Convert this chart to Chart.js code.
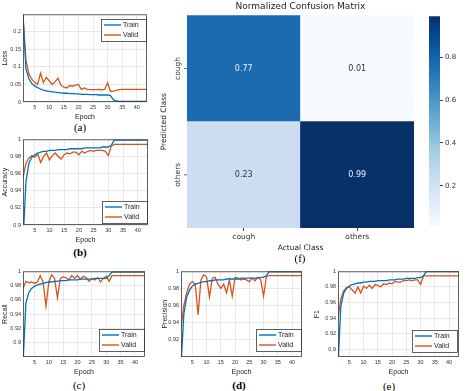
<!DOCTYPE html>
<html>
<head>
<meta charset="utf-8">
<script src="https://cdn.jsdelivr.net/npm/chart.js@4/dist/chart.umd.min.js"></script>
<style>
  html, body { margin:0; padding:0; background:#fff; }
  #wrap { position:relative; width:474px; height:391px; overflow:hidden; background:#fff; }
  canvas { position:absolute; }
  .plab { position:absolute; font-family:"Liberation Serif", serif; font-size:11px; color:#000; transform:translate(-50%,-50%); white-space:nowrap; }
</style>
</head>
<body>
<div id="wrap"></div>
<script>
// ---------------- DATA ----------------
const epochs = [1,2,3,4,5,6,7,8,9,10,11,12,13,14,15,16,17,18,19,20,21,22,23,24,25,26,27,28,29,30,31,32,33,34,35,36,37,38,39,40,41,42,43,44];
const xTicks = [5,10,15,20,25,30,35,40];

const lossTrain = [0.25,0.095,0.066,0.053,0.046,0.041,0.037,0.034,0.032,0.03,0.029,0.028,0.027,0.026,0.025,0.025,0.024,0.024,0.023,0.023,0.022,0.022,0.022,0.021,0.021,0.021,0.02,0.02,0.02,0.02,0.018,0.006,0.003,0.002,0.002,0.002,0.002,0.002,0.002,0.002,0.002,0.002,0.002,0.002];
const lossValid = [0.24,0.12,0.08,0.065,0.056,0.05,0.082,0.055,0.07,0.06,0.05,0.058,0.068,0.048,0.042,0.04,0.047,0.045,0.048,0.05,0.036,0.04,0.036,0.035,0.035,0.035,0.036,0.035,0.036,0.055,0.03,0.031,0.033,0.035,0.036,0.036,0.036,0.036,0.036,0.036,0.036,0.036,0.036,0.036];
const lossTicks = [0,0.05,0.1,0.15,0.2];
const lossTickLabels = ['0','0.05','0.1','0.15','0.2'];

const accTrain = [0.88,0.95,0.972,0.979,0.982,0.984,0.985,0.986,0.986,0.987,0.987,0.987,0.988,0.988,0.988,0.988,0.989,0.989,0.989,0.989,0.989,0.99,0.99,0.99,0.99,0.99,0.99,0.991,0.991,0.991,0.993,0.999,0.999,0.999,0.999,0.999,0.999,0.999,0.999,0.999,0.999,0.999,0.999,0.999];
const accValid = [0.955,0.972,0.978,0.981,0.979,0.983,0.973,0.98,0.984,0.976,0.981,0.984,0.98,0.977,0.982,0.984,0.983,0.985,0.985,0.982,0.986,0.984,0.986,0.987,0.986,0.987,0.987,0.987,0.986,0.981,0.992,0.994,0.994,0.994,0.994,0.994,0.994,0.994,0.994,0.994,0.994,0.994,0.994,0.994];

const recallTrain = [0.87,0.955,0.97,0.976,0.979,0.981,0.982,0.983,0.984,0.985,0.985,0.986,0.986,0.987,0.987,0.987,0.988,0.988,0.988,0.988,0.989,0.989,0.989,0.989,0.989,0.99,0.99,0.99,0.99,0.99,0.994,0.999,0.999,0.999,0.999,0.999,0.999,0.999,0.999,0.999,0.999,0.999,0.999,0.999];
const recallValid = [0.976,0.986,0.984,0.985,0.983,0.985,0.994,0.985,0.951,0.985,0.995,0.99,0.963,0.99,0.992,0.991,0.988,0.994,0.99,0.994,0.989,0.993,0.991,0.986,0.99,0.988,0.991,0.985,0.99,0.993,0.986,0.994,0.994,0.994,0.994,0.994,0.994,0.994,0.994,0.994,0.994,0.994,0.994,0.994];

const precTrain = [0.89,0.95,0.97,0.978,0.983,0.985,0.986,0.987,0.988,0.988,0.989,0.989,0.99,0.99,0.99,0.99,0.991,0.991,0.991,0.991,0.991,0.992,0.992,0.992,0.992,0.992,0.992,0.992,0.993,0.993,0.995,0.9995,0.9995,0.9995,0.9995,0.9995,0.9995,0.9995,0.9995,0.9995,0.9995,0.9995,0.9995,0.9995];
const precValid = [0.935,0.96,0.975,0.985,0.988,0.985,0.949,0.99,0.996,0.993,0.97,0.992,0.993,0.985,0.98,0.985,0.975,0.99,0.971,0.993,0.992,0.99,0.991,0.99,0.988,0.992,0.989,0.993,0.99,0.971,0.994,0.995,0.995,0.995,0.995,0.995,0.995,0.995,0.995,0.995,0.995,0.995,0.995,0.995];

const f1Train = [0.88,0.955,0.972,0.978,0.981,0.983,0.984,0.985,0.985,0.986,0.986,0.987,0.987,0.987,0.988,0.988,0.988,0.988,0.989,0.989,0.989,0.99,0.99,0.99,0.991,0.991,0.991,0.991,0.992,0.992,0.994,0.9995,0.9995,0.9995,0.9995,0.9995,0.9995,0.9995,0.9995,0.9995,0.9995,0.9995,0.9995,0.9995];
const f1Valid = [0.94,0.965,0.975,0.979,0.98,0.976,0.972,0.98,0.972,0.981,0.978,0.982,0.978,0.983,0.982,0.98,0.984,0.983,0.985,0.984,0.987,0.986,0.986,0.988,0.988,0.989,0.988,0.989,0.989,0.983,0.994,0.994,0.994,0.994,0.994,0.994,0.994,0.994,0.994,0.994,0.994,0.994,0.994,0.994];

const metricTicks = [0.9,0.92,0.94,0.96,0.98,1];
const metricTickLabels = ['0.9','0.92','0.94','0.96','0.98','1'];

const classes = ['cough','others'];
const predCough = [0.77, 0.01];   // predicted cough row: actual cough, actual others
const predOthers = [0.23, 0.99];  // predicted others row
const cbarTicks = [0.2,0.4,0.6,0.8];

// ---------------- STYLE ----------------
const BLUE = '#0072BD', ORANGE = '#D95319';
const MFONT = '"Liberation Sans", Arial, sans-serif';
const SFONT = '"DejaVu Sans", sans-serif';
const BLUES = ['#f7fbff','#deebf7','#c6dbef','#9ecae1','#6baed6','#4292c6','#2171b5','#08519c','#08306b'];
const wrap = document.getElementById('wrap');

function hex2rgb(h){ return [parseInt(h.slice(1,3),16),parseInt(h.slice(3,5),16),parseInt(h.slice(5,7),16)]; }
function blues(t){
  t = Math.max(0, Math.min(1, t));
  const p = t*(BLUES.length-1), i = Math.min(Math.floor(p), BLUES.length-2), f = p - i;
  const a = hex2rgb(BLUES[i]), b = hex2rgb(BLUES[i+1]);
  const c = a.map((v,k)=>Math.round(v + (b[k]-v)*f));
  return `rgb(${c[0]},${c[1]},${c[2]})`;
}

function addCanvas(left, top, w, h){
  const c = document.createElement('canvas');
  c.width = w; c.height = h;
  c.style.left = left+'px'; c.style.top = top+'px';
  c.style.width = w+'px'; c.style.height = h+'px';
  wrap.appendChild(c);
  return c;
}
function addLabel(text, x, y, bold){
  const d = document.createElement('div');
  d.className = 'plab'; d.textContent = text;
  d.style.left = x+'px'; d.style.top = y+'px';
  if (bold) d.style.fontWeight = 'bold';
  wrap.appendChild(d);
}

const framePlugin = {
  id:'frame',
  afterDatasetsDraw(chart){
    const {ctx, chartArea:ca} = chart;
    ctx.save();
    ctx.strokeStyle = '#3a3a3a'; ctx.lineWidth = 0.8;
    ctx.strokeRect(ca.left+0.5, ca.top+0.5, ca.width-1, ca.height-1);
    ctx.restore();
  }
};
const legendPlugin = {
  id:'legendBox',
  afterDatasetsDraw(chart, args, o){
    const {ctx, chartArea:ca} = chart;
    const w = 45, h = 22;
    const x = Math.round(ca.right - w - o.mr);
    const y = Math.round(o.pos === 'top' ? ca.top + o.m : ca.bottom - h - o.m);
    ctx.save();
    ctx.fillStyle = '#fff'; ctx.fillRect(x, y, w, h);
    ctx.strokeStyle = '#3a3a3a'; ctx.lineWidth = 0.8; ctx.strokeRect(x+0.5, y+0.5, w, h);
    chart.data.datasets.forEach((ds, i) => {
      const ly = y + 6 + i*10;
      ctx.strokeStyle = ds.borderColor; ctx.lineWidth = 1.4;
      ctx.beginPath(); ctx.moveTo(x+3, ly); ctx.lineTo(x+20, ly); ctx.stroke();
      ctx.fillStyle = '#222'; ctx.font = '7px ' + MFONT;
      ctx.textBaseline = 'middle'; ctx.textAlign = 'left';
      ctx.fillText(ds.label, x+22, ly);
    });
    ctx.restore();
  }
};

const PAD_T = 5, PAD_R = 4, PAD_B = 19;
function lineChart(box, yTitle, train, valid, yMin, yMax, yTicks, yLabels, legend){
  const w = (box.r - box.l) + box.padL + PAD_R;
  const h = (box.b - box.t) + PAD_T + PAD_B;
  const cv = addCanvas(box.l - box.padL, box.t - PAD_T, w, h);
  const tickFont = {family: MFONT, size: 5.5};
  const titleFont = {family: MFONT, size: 7};
  return new Chart(cv, {
    type:'line',
    data:{ datasets:[
      {label:'Train', data: epochs.map((e,i)=>({x:e, y:train[i]})), borderColor: BLUE, borderWidth:1.3, pointRadius:0, tension:0},
      {label:'Valid', data: epochs.map((e,i)=>({x:e, y:valid[i]})), borderColor: ORANGE, borderWidth:1.3, pointRadius:0, tension:0}
    ]},
    options:{
      responsive:false, animation:false, devicePixelRatio:1,
      layout:{padding:{top:PAD_T, right:PAD_R, left:0, bottom:0}},
      plugins:{legend:{display:false}, tooltip:{enabled:false}, legendBox: legend},
      scales:{
        x:{ type:'linear', min:1, max:43.5,
            afterBuildTicks: s => { s.ticks = xTicks.map(v=>({value:v})); },
            afterFit: s => { s.height = PAD_B; },
            ticks:{ font:tickFont, color:'#333', padding:2, maxRotation:0, autoSkip:false, callback: v => String(v) },
            grid:{ color:'#e3e3e3', drawTicks:false, lineWidth:0.8 },
            border:{ display:false },
            title:{ display:true, text:'Epoch', padding:0, color:'#222', font:titleFont } },
        y:{ type:'linear', min:yMin, max:yMax,
            afterBuildTicks: s => { s.ticks = yTicks.map(v=>({value:v})); },
            afterFit: s => { s.width = box.padL; },
            ticks:{ font:tickFont, color:'#333', padding:2, autoSkip:false, callback: (v,i) => yLabels[i] },
            grid:{ color:'#e3e3e3', drawTicks:false, lineWidth:0.8 },
            border:{ display:false },
            title:{ display:true, text:yTitle, padding:0, color:'#222', font:titleFont } }
      }
    },
    plugins:[framePlugin, legendPlugin]
  });
}

lineChart({l:23,t:14,r:147,b:102,padL:22}, 'Loss', lossTrain, lossValid, 0, 0.25, lossTicks, lossTickLabels, {pos:'top', m:5, mr:1});
lineChart({l:23,t:139,r:148,b:225,padL:22}, 'Accuracy', accTrain, accValid, 0.9, 1.0, metricTicks, metricTickLabels, {pos:'bottom', m:2, mr:1});
lineChart({l:23,t:271,r:145,b:357,padL:22}, 'Recall', recallTrain, recallValid, 0.88, 1.0, metricTicks, metricTickLabels, {pos:'bottom', m:6, mr:1});
lineChart({l:181,t:271,r:302,b:357,padL:20}, 'Precision', precTrain, precValid, 0.9, 1.0, metricTicks.slice(1), metricTickLabels.slice(1), {pos:'bottom', m:6, mr:1});
lineChart({l:338,t:271,r:459,b:357,padL:25}, 'F1', f1Train, f1Valid, 0.89, 1.0, metricTicks, metricTickLabels, {pos:'bottom', m:5, mr:2});

// ---------------- CONFUSION MATRIX ----------------
const allVals = predCough.concat(predOthers);
const vmin = Math.min(...allVals), vmax = Math.max(...allVals);
const norm = v => (v - vmin) / (vmax - vmin);

const cellText = {
  id:'cellText',
  afterDatasetsDraw(chart){
    const {ctx} = chart;
    ctx.save();
    ctx.font = '8px ' + SFONT; ctx.textAlign = 'center'; ctx.textBaseline = 'middle';
    chart.data.datasets.forEach((ds, di) => {
      chart.getDatasetMeta(di).data.forEach((el, i) => {
        const v = ds.values[i];
        ctx.fillStyle = norm(v) > 0.5 ? '#eaf2fb' : '#333';
        ctx.fillText(v.toFixed(2), el.x, (el.y + el.base)/2);
      });
    });
    ctx.restore();
  }
};
const rowLabels = {
  id:'rowLabels',
  afterDraw(chart){
    const {ctx, chartArea:ca} = chart;
    const ys = chart.scales.y;
    ctx.save();
    ctx.font = '7.5px ' + SFONT; ctx.fillStyle = '#333';
    ctx.textAlign = 'center'; ctx.textBaseline = 'middle';
    ctx.strokeStyle = '#444'; ctx.lineWidth = 0.8;
    const rows = [{name:classes[0], v:1.5},{name:classes[1], v:0.5}];
    rows.forEach(r => {
      const py = ys.getPixelForValue(r.v);
      ctx.beginPath(); ctx.moveTo(ca.left-3, py); ctx.lineTo(ca.left, py); ctx.stroke();
      ctx.save(); ctx.translate(ca.left - 9, py); ctx.rotate(-Math.PI/2);
      ctx.fillText(r.name, 0, 0); ctx.restore();
    });
    ctx.restore();
  }
};

{
  const cv = addCanvas(160, 0, 256, 253);
  new Chart(cv, {
    type:'bar',
    data:{ labels: classes, datasets:[
      {label:'others', values: predOthers, data: classes.map(()=>1), backgroundColor: predOthers.map(v=>blues(norm(v))), borderWidth:0, barPercentage:1, categoryPercentage:1},
      {label:'cough', values: predCough, data: classes.map(()=>1), backgroundColor: predCough.map(v=>blues(norm(v))), borderWidth:0, barPercentage:1, categoryPercentage:1}
    ]},
    options:{
      responsive:false, animation:false, devicePixelRatio:1,
      layout:{padding:{top:0, right:2, left:0, bottom:0}},
      plugins:{
        legend:{display:false}, tooltip:{enabled:false},
        title:{ display:true, fullSize:false, text:'Normalized Confusion Matrix', color:'#222', font:{family:SFONT, size:9, weight:'normal'}, padding:{top:1.5, bottom:3} }
      },
      scales:{
        x:{ stacked:true,
            afterFit: s => { s.height = 25; },
            ticks:{ font:{family:SFONT, size:7.5}, color:'#333', padding:2 },
            grid:{ display:true, drawOnChartArea:false, drawTicks:true, tickLength:3, offset:false, color:'#444' },
            border:{ display:false },
            title:{ display:true, text:'Actual Class', padding:0, color:'#222', font:{family:SFONT, size:7.5} } },
        y:{ stacked:true, min:0, max:2,
            afterBuildTicks: s => { s.ticks = [0.5,1.5].map(v=>({value:v})); },
            afterFit: s => { s.width = 27; },
            ticks:{ display:false },
            grid:{ display:false },
            border:{ display:false },
            title:{ display:true, text:'Predicted Class', padding:0, color:'#222', font:{family:SFONT, size:7.5} } }
      }
    },
    plugins:[cellText, rowLabels]
  });
}

// colorbar
{
  const cv = addCanvas(429, 10, 45, 223);
  new Chart(cv, {
    type:'bar',
    data:{ labels:[''], datasets:[{
      data:[[vmin, vmax]], borderWidth:0, barPercentage:1, categoryPercentage:1,
      backgroundColor: c => {
        const ca = c.chart.chartArea;
        if (!ca) return BLUES[4];
        const g = c.chart.ctx.createLinearGradient(0, ca.bottom, 0, ca.top);
        BLUES.forEach((col,i)=> g.addColorStop(i/(BLUES.length-1), col));
        return g;
      }
    }]},
    options:{
      responsive:false, animation:false, devicePixelRatio:1,
      layout:{padding:{top:5, bottom:5, left:0, right:0}},
      plugins:{legend:{display:false}, tooltip:{enabled:false}},
      scales:{
        x:{ display:false },
        y:{ position:'right', min:vmin, max:vmax,
            afterBuildTicks: s => { s.ticks = cbarTicks.map(v=>({value:v})); },
            afterFit: s => { s.width = 34; },
            ticks:{ font:{family:SFONT, size:7}, color:'#333', padding:2, callback: v => v.toFixed(1) },
            grid:{ display:true, drawOnChartArea:false, drawTicks:true, tickLength:3, color:'#444' },
            border:{ display:false } }
      }
    }
  });
}

// panel letters
addLabel('(a)', 80, 127, false);
addLabel('(b)', 80, 252, true);
addLabel('(c)', 79, 385, false);
addLabel('(d)', 239, 385, true);
addLabel('(e)', 389, 386, false);
addLabel('(f)', 300, 258, false);
</script>
</body>
</html>
